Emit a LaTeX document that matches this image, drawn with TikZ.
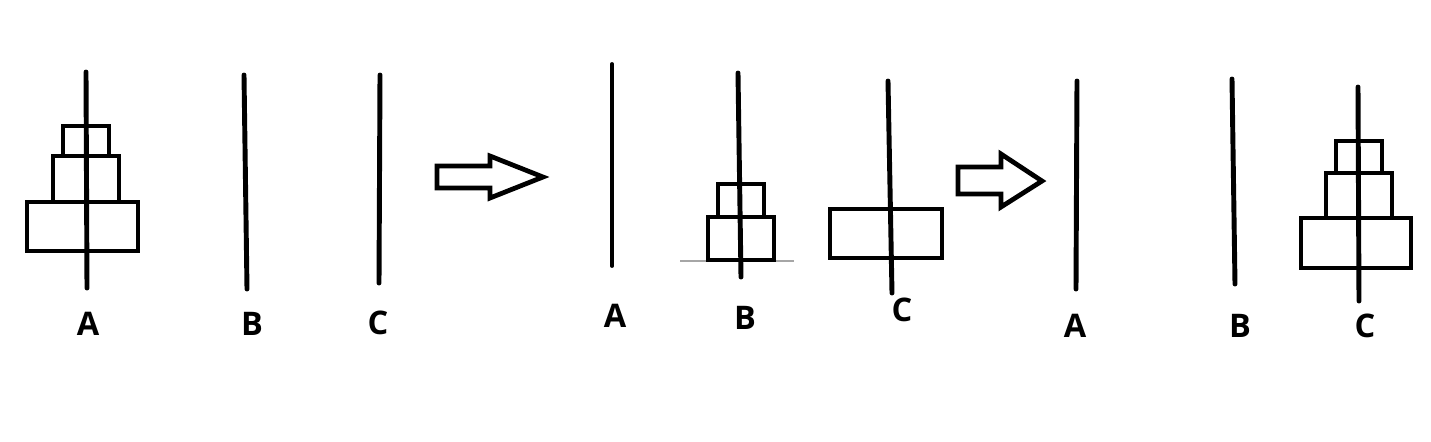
\documentclass[tikz,border=0pt]{standalone}
\usepackage{fontspec}
\setsansfont{Open Sans}
\usepackage{tikz}

\tikzset{
  rod/.style={line width=2.8pt, line cap=round},
  disk/.style={draw, line width=2.7pt},
  bigarrow/.style={draw, line width=2.7pt, line join=miter},
  lab/.style={font=\sffamily\bfseries\fontsize{18.5}{18.5}\selectfont, inner sep=0pt}
}

\begin{document}
\begin{tikzpicture}[x=0.02cm, y=-0.02cm]
\useasboundingbox (0,0) rectangle (1431,441);

\draw[disk] (63,126) rectangle (109,156);
\draw[disk] (53,156) rectangle (119,202);
\draw[disk] (27,202) rectangle (138,251);
\draw[rod] (86,72) -- (87,288);
\draw[rod] (244,75) -- (247,289);
\draw[rod] (380,75) -- (379,283);

\draw[bigarrow] (437,166) -- (490,166) -- (490,156) -- (543,177) -- (490,198) -- (490,188) -- (437,188) -- cycle;

\draw[gray!70, line width=0.8pt] (680,261) -- (794,261);
\draw[disk] (718,184) rectangle (764,217);
\draw[disk] (708,217) rectangle (774,260);
\draw[disk] (830,209) rectangle (942,258);
\draw[rod, line width=2.2pt] (612,64) -- (612,266);
\draw[rod] (738,73) -- (741,277);
\draw[rod] (888,81) -- (892,293);

\draw[bigarrow] (958,167) -- (1001,167) -- (1001,154) -- (1042,181) -- (1001,207) -- (1001,194) -- (958,194) -- cycle;

\draw[disk] (1336,141) rectangle (1382,173);
\draw[disk] (1326,173) rectangle (1392,218);
\draw[disk] (1301,218) rectangle (1411,268);
\draw[rod] (1077,81) -- (1076,289);
\draw[rod] (1232,79) -- (1235,284);
\draw[rod] (1358,87) -- (1359,301);

\node[lab] (a1) at (88,324) {A};
\node[lab] (b1) at (252,324) {B};
\node[lab] (c1) at (378,323) {C};
\node[lab] (a2) at (615,316) {A};
\node[lab] (b2) at (745,318) {B};
\node[lab] (c2) at (902,310) {C};
\node[lab] (a3) at (1075,326) {A};
\node[lab] (b3) at (1240,326) {B};
\node[lab] (c3) at (1365,326) {C};
\end{tikzpicture}
\end{document}
